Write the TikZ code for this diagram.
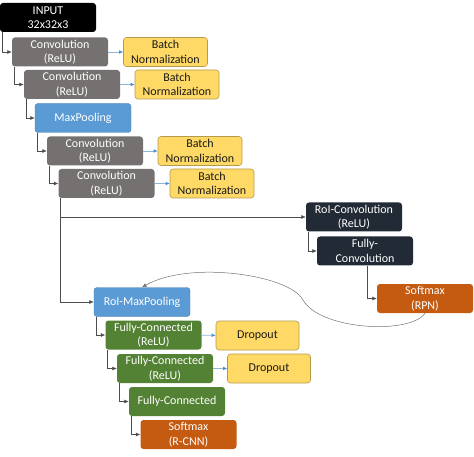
\documentclass[tikz,border=0pt]{standalone}
\usepackage{fontspec}
\setmainfont{Carlito}
\usepackage{tikz}
\usetikzlibrary{arrows.meta}
\definecolor{convgray}{HTML}{767171}
\definecolor{bnyellow}{HTML}{FFD966}
\definecolor{bnedge}{HTML}{B59A4A}
\definecolor{poolblue}{HTML}{5B9BD5}
\definecolor{rpnnavy}{HTML}{222A35}
\definecolor{smorange}{HTML}{C55A11}
\definecolor{fcgreen}{HTML}{548235}
\definecolor{bnline}{HTML}{8EB4DA}
\definecolor{tipblue}{HTML}{4A8FD3}
\begin{document}
\begin{tikzpicture}[x=1pt,y=-1pt,
	>={Latex[length=4.5pt,width=4pt]},
	box/.style={rounded corners=3pt,minimum width=96pt,minimum height=29pt,inner sep=1pt,
		align=center,font=\fontsize{12}{14.5}\selectfont,text=white},
	conv/.style={box,fill=convgray},
	bnbox/.style={box,fill=bnyellow,draw=bnedge,line width=0.6pt,minimum width=84pt,text=black!90},
	pool/.style={box,fill=poolblue,draw=poolblue!80!black,line width=0.4pt},
	rpnbox/.style={box,fill=rpnnavy},
	smbox/.style={box,fill=smorange},
	fcbox/.style={box,fill=fcgreen},
	link/.style={->,draw=black!70,line width=0.6pt},
	bnlink/.style={-{Latex[length=4pt,width=3.5pt,color=tipblue]},draw=bnline,line width=0.6pt}]
		\useasboundingbox (0,0) rectangle (474,457);
		% backbone
		\node[box,fill=black] (input) at (48,17.5) {INPUT\\32x32x3};
		\node[conv] (conv1) at (60,52) {Convolution\\(ReLU)};
		\node[bnbox] (bn1) at (165.5,52) {Batch\\Normalization};
		\node[conv] (conv2) at (72,84.5) {Convolution\\(ReLU)};
		\node[bnbox] (bn2) at (177,84.5) {Batch\\Normalization};
		\node[pool] (maxpool) at (83,118) {MaxPooling};
		\node[conv] (conv3) at (95,151) {Convolution\\(ReLU)};
		\node[bnbox] (bn3) at (200,151) {Batch\\Normalization};
		\node[conv] (conv4) at (106.5,183.5) {Convolution\\(ReLU)};
		\node[bnbox] (bn4) at (212,183.5) {Batch\\Normalization};
		% region proposal
		\node[rpnbox] (roiconv) at (354,217) {RoI-Convolution\\(ReLU)};
		\node[rpnbox] (fullconv) at (365,251) {Fully-\\Convolution};
		\node[smbox] (rpn) at (425,298.5) {Softmax\\(RPN)};
		% detection head
		\node[pool] (roimax) at (142,302) {RoI-MaxPooling};
		\node[fcbox] (fc1) at (153.5,335) {Fully-Connected\\(ReLU)};
		\node[bnbox,minimum width=83pt] (drop1) at (257.5,335.5) {Dropout};
		\node[fcbox] (fc2) at (165,368.5) {Fully-Connected\\(ReLU)};
		\node[bnbox,minimum width=83pt] (drop2) at (269,368.5) {Dropout};
		\node[fcbox] (fc3) at (177,401.5) {Fully-Connected};
		\node[smbox] (rcnn) at (188.5,434.5) {Softmax\\(R-CNN)};
		% connectors
		\draw[link] ([xshift=2pt]input.south west) |- (conv1.west);
		\draw[link] ([xshift=2pt]conv1.south west) |- (conv2.west);
		\draw[link] ([xshift=2pt]conv2.south west) |- (maxpool.west);
		\draw[link] ([xshift=2pt]maxpool.south west) |- (conv3.west);
		\draw[link] ([xshift=2pt]conv3.south west) |- (conv4.west);
		\draw[link] ([xshift=2pt]conv4.south west) |- (roiconv.west);
		\draw[link] ([xshift=2pt]conv4.south west) |- (roimax.west);
		\draw[link] ([xshift=2pt]roiconv.south west) |- (fullconv.west);
		\draw[link] ([xshift=2pt]fullconv.south) |- (rpn.west);
		\draw[link] ([xshift=2pt]roimax.south west) |- (fc1.west);
		\draw[link] ([xshift=2pt]fc1.south west) |- (fc2.west);
		\draw[link] ([xshift=2pt]fc2.south west) |- (fc3.west);
		\draw[link] ([xshift=2pt]fc3.south west) |- (rcnn.west);
		\draw[bnlink] (conv1) -- (bn1);
		\draw[bnlink] (conv2) -- (bn2);
		\draw[bnlink] (conv3) -- (bn3);
		\draw[bnlink] (conv4) -- (bn4);
		\draw[bnlink] (fc1) -- (drop1);
		\draw[bnlink] (fc2) -- (drop2);
		\draw[link,draw=black!55,line width=0.5pt] (rpn.south) .. controls (410,335) and (320,330) .. (303,300)
			.. controls (290,275) and (190,260) .. (roimax.north);
\end{tikzpicture}
\end{document}
